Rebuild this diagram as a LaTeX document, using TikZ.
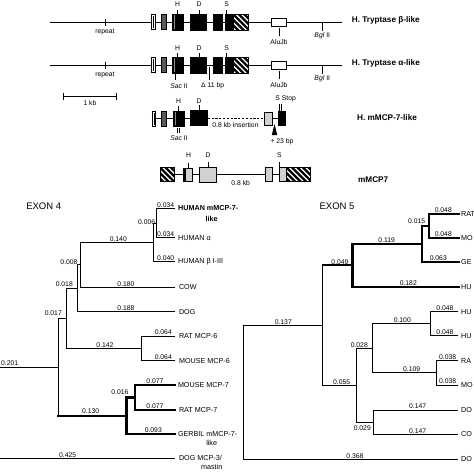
\documentclass[tikz,border=0pt]{standalone}
\usepackage{fontspec}
\setmainfont{Liberation Sans}
\newcommand\myhatch[4]{%
  \begin{scope}
    \clip (#1,#2) rectangle (#3,#4);
    \fill[white] (#1,#2) rectangle (#3,#4);
    \foreach \k in {-22,-16.5,...,30}{\draw[line width=2.3pt] ({#1+\k},#2) -- ++(22,22);}
  \end{scope}
  \draw[line width=0.7pt] (#1,#2) rectangle (#3,#4);}
\newcommand\tryprow[1]{%
  \draw[ln] (50,#1) -- (341.7,#1);
  \draw[ln] (105,#1-3.5) -- (105,#1+3.5);
  \draw[line width=0.7pt, fill=white] (151.7,#1-7.5) rectangle (155,#1+7.5);
  \draw[line width=0.5pt] (153.3,#1-6) -- (153.3,#1+6);
  \draw[line width=0.7pt, fill=black!65] (161.7,#1-7.5) rectangle (166,#1+7.5);
  \draw[exo] (172,#1-8) rectangle (183,#1+8);
  \draw[black!45, line width=0.5pt] (174.3,#1-7) -- (174.3,#1+7);
  \draw[exo] (190,#1-8) rectangle (206.7,#1+8);
  \draw[exo] (213,#1-8) rectangle (222.7,#1+8);
  \draw[exo] (225,#1-8) rectangle (233,#1+8);
  \myhatch{233}{#1-8}{248}{#1+8}
  \draw[line width=0.7pt, fill=white] (271,#1-4) rectangle (286,#1+4);
  \draw[ln] (177.5,#1-8) -- (177.5,#1-12.5);
  \draw[ln] (199,#1-8) -- (199,#1-12.5);
  \draw[ln] (226.7,#1-8) -- (226.7,#1-12.5);
  \draw[ln] (279,#1+5.5) -- (279,#1+13.5);
  \draw[ln] (322.3,#1) -- (322.3,#1+8.5);}
\begin{document}
\begin{tikzpicture}[x=1pt,y=-1pt,
  ln/.style={line width=0.85pt},
  thk/.style={line width=2.4pt, line cap=rect},
  exo/.style={draw, line width=0.7pt, fill=black},
  lgt/.style={draw, line width=0.7pt, fill=black!18},
  num/.style={font=\fontsize{6.8}{7.5}\selectfont, inner sep=0.3pt},
  sml/.style={font=\fontsize{6.8}{7.5}\selectfont, inner sep=0.3pt},
  lab/.style={font=\fontsize{7.2}{8}\selectfont, inner sep=0.3pt},
  leaf/.style={lab, anchor=west},
  bleaf/.style={font=\bfseries\fontsize{7.2}{8}\selectfont, inner sep=0.3pt, anchor=west},
  gtitle/.style={font=\bfseries\fontsize{8.2}{9}\selectfont, anchor=west, inner sep=0},
  exon/.style={font=\fontsize{9.5}{11}\selectfont, inner sep=0},
  bl/.style={num, anchor=south},
]
\useasboundingbox (0,0) rectangle (474,474);
\fill[white] (0,0) rectangle (474,474);

% ---------- gene rows 1 and 2 ----------
\tryprow{22}
\tryprow{65.3}
\foreach \yc/\nm in {22/a,65.3/b}{
  \node[sml] (rep\nm) at (105,\yc+10) {repeat};
  \node[sml] (h\nm) at (177.5,\yc-17.5) {H};
  \node[sml] (d\nm) at (199,\yc-17.5) {D};
  \node[sml] (s\nm) at (226.7,\yc-17.5) {S};
  \node[sml] (alu\nm) at (279,\yc+19.8) {AluJb};
  \node[sml] (bgl\nm) at (322.3,\yc+13.3) {\textit{Bgl} II};
}
\node[gtitle] (t1) at (351.7,20.7) {H. Tryptase β-like};
\node[gtitle] (t2) at (351.7,63.3) {H. Tryptase α-like};
\draw[ln] (175,73) -- (175,80);
\node[sml] (sac2) at (179,86) {\textit{Sac} II};
\draw[ln] (209.3,66.7) -- (209.3,80);
\node[sml] (del) at (212.7,86) {Δ 11 bp};

% scale bar
\draw[ln] (63.3,96.7) -- (116.7,96.7);
\draw[ln] (63.3,93.2) -- (63.3,100.2);
\draw[ln] (116.7,93.2) -- (116.7,100.2);
\node[sml] (kb) at (90,103.3) {1 kb};

% ---------- row 3: H. mMCP-7-like ----------
\draw[ln] (151.7,118.3) -- (190,118.3);
\draw[ln, dash pattern=on 2.2pt off 1.6pt] (207.7,118.3) -- (264,118.3);
\draw[ln] (272,118.3) -- (278,118.3);
\draw[line width=0.7pt, fill=white] (152.7,111.5) rectangle (155,126);
\draw[line width=0.5pt] (153.8,113) -- (153.8,124.5);
\draw[line width=0.7pt, fill=black!65] (161.7,111.5) rectangle (166,126);
\draw[exo] (173,111) rectangle (184.3,126);
\draw[black!45, line width=0.5pt] (175.3,112) -- (175.3,125);
\draw[exo] (190,110) rectangle (207.7,125.7);
\draw[lgt] (264,112) rectangle (272,125);
\draw[exo] (278,111.7) rectangle (285,125);
\draw[ln] (178.7,111) -- (178.7,106);
\draw[ln] (199,110) -- (199,105);
\node[sml] (h3) at (178.7,101.5) {H};
\node[sml] (d3) at (199,101) {D};
\draw[ln] (177.8,127.7) -- (177.8,132.7);
\draw[ln] (179.8,127.7) -- (179.8,132.7);
\node[sml] (sac3) at (179,138) {\textit{Sac} II};
\draw[ln] (279.3,103.5) -- (279.3,111.7);
\draw[ln] (281.1,103.5) -- (281.1,111.7);
\node[sml] (sstop) at (285.7,99) {S Stop};
\fill (274.5,124) -- (271.8,135) -- (277.2,135) -- cycle;
\node[sml] (p23) at (282,141.7) {+ 23 bp};
\node[sml] (ins) at (235.5,124.6) {0.8 kb insertion};
\node[gtitle] (t3) at (357,117.3) {H. mMCP-7-like};

% ---------- row 4: mMCP7 ----------
\draw[ln] (174.3,174.5) -- (279,174.5);
\myhatch{160}{167.5}{174.3}{181.5}
\draw[lgt] (183.3,168) rectangle (192.3,181);
\fill (183.3,168) rectangle (185.7,181);
\draw[lgt] (199.3,167) rectangle (216,182);
\draw[lgt] (265,167.5) rectangle (272.7,181);
\draw[lgt] (279,167) rectangle (286,181.5);
\myhatch{286}{167}{310}{181.5}
\draw[ln] (188.5,168) -- (188.5,162.5);
\draw[ln] (208,167) -- (208,161.5);
\draw[ln] (279.3,167) -- (279.3,161.5);
\node[sml] (h4) at (188.5,155.5) {H};
\node[sml] (d4) at (208,155.5) {D};
\node[sml] (s4) at (279.3,155.5) {S};
\node[sml] (kb4) at (240.7,183.5) {0.8 kb};
\node[gtitle] (t4) at (358,180) {mMCP7};

% ---------- EXON 4 tree ----------
\node[exon] (ex4) at (43.7,206) {EXON 4};
\coordinate (A) at (156,223);
\coordinate (B) at (153,242.3);
\coordinate (C) at (80,264.8);
\coordinate (D) at (77.3,288.3);
\coordinate (M6) at (141.7,348.3);
\coordinate (E) at (66.7,318.3);
\coordinate (H7) at (135,397.5);
\coordinate (G) at (126.5,415.75);
\coordinate (F) at (58.3,367);
\coordinate (R4) at (-10,412.6);
\foreach \i/\y in {1/208.3,2/237.7,3/261.7,4/287.3,5/311.7,6/336,7/360.7,8/385,9/410,10/434,11/458.3}
  \coordinate (a\i) at (175,\y);
\draw[ln] (A) |- (a1);
\draw[ln] (A) |- (a2);
\draw[ln] (B) |- (A);
\draw[ln] (B) |- (a3);
\draw[ln] (C) |- (B);
\draw[ln] (C) |- (a4);
\draw[ln] (D) |- (C);
\draw[ln] (D) |- (a5);
\draw[ln] (M6) |- (a6);
\draw[ln] (M6) |- (a7);
\draw[ln] (E) |- (D);
\draw[ln] (E) |- (M6);
\draw[ln] (F) |- (E);
\draw[ln] (F) -- (F |- G);
\draw[thk] (F |- G) -- (G);
\draw[thk] (G) |- (H7);
\draw[thk] (G) |- (a10);
\draw[thk] (H7) |- (a8);
\draw[thk] (H7) |- (a9);
\draw[ln] (R4) |- (F);
\draw[ln] (R4) |- (a11);
% leaf labels
\node[bleaf] (la1) at (177.7,208.3) {HUMAN mMCP-7-};
\node[bleaf, anchor=center] (la1b) at (211.7,219.3) {like};
\node[leaf] (la2) at (177.7,237.7) {HUMAN α};
\node[leaf] (la3) at (177.7,261.7) {HUMAN β I-III};
\node[leaf] (la4) at (178.5,287.3) {COW};
\node[leaf] (la5) at (178.5,311.7) {DOG};
\node[leaf] (la6) at (178.5,336) {RAT MCP-6};
\node[leaf] (la7) at (178.5,360.7) {MOUSE MCP-6};
\node[leaf] (la8) at (177.5,385) {MOUSE MCP-7};
\node[leaf] (la9) at (178.5,410) {RAT MCP-7};
\node[leaf] (la10) at (177.5,434) {GERBIL mMCP-7-};
\node[lab] (la10b) at (211.7,442.7) {like};
\node[leaf] (la11) at (178.5,458.3) {DOG MCP-3/};
\node[lab] (la11b) at (211.7,466.7) {mastin};
% branch lengths
\node[bl] (e1) at (165.7,207.7) {0.034};
\node[num] (e2) at (146.7,221.7) {0.006};
\node[bl] (e3) at (165.7,237.1) {0.034};
\node[bl] (e4) at (165.7,261.1) {0.040};
\node[bl] (e5) at (118.3,241.7) {0.140};
\node[num] (e6) at (69,261.7) {0.008};
\node[bl] (e7) at (126,286.7) {0.180};
\node[num] (e8) at (64.3,284) {0.018};
\node[bl] (e9) at (126,311.1) {0.188};
\node[num] (e10) at (53.3,312.7) {0.017};
\node[bl] (e11) at (163.3,335.4) {0.064};
\node[bl] (e12) at (105,347.7) {0.142};
\node[bl] (e13) at (163.3,360.1) {0.064};
\node[num, anchor=south west] (e14) at (0.6,366.4) {0.201};
\node[bl] (e15) at (155,383.8) {0.077};
\node[num] (e16) at (120,391.7) {0.016};
\node[bl] (e17) at (155,408.8) {0.077};
\node[bl] (e18) at (90.7,414.5) {0.130};
\node[bl] (e19) at (153.3,432.8) {0.093};
\node[bl] (e20) at (67.7,457.7) {0.425};

% ---------- EXON 5 tree ----------
\node[exon] (ex5) at (337,206) {EXON 5};
\coordinate (RM) at (429,225.85);
\coordinate (RMG) at (421.7,243.8);
\coordinate (N119) at (352.3,265.25);
\coordinate (P) at (322.7,325.2);
\coordinate (HH) at (430,323.7);
\coordinate (RM6) at (436.7,372.85);
\coordinate (N028) at (372.7,348.3);
\coordinate (DC) at (373.3,422.15);
\coordinate (N055) at (356,385.2);
\coordinate (R5) at (243.3,392.25);
\foreach \i/\y in {1/214,2/237.7,3/261.7,4/286.7,5/311.7,6/335.7,7/360.7,8/385,9/410,10/434.3,11/459.3}
  \coordinate (b\i) at (458.3,\y);
\draw[thk] (RM) |- (b1);
\draw[thk] (RM) |- (b2);
\draw[thk] (RMG) |- (RM);
\draw[thk] (RMG) |- (b3);
\draw[thk] (N119) |- (RMG);
\draw[thk] (N119) |- (b4);
\draw[ln] (P) -- (P |- N119);
\draw[thk] (P |- N119) -- (N119);
\draw[ln] (P) |- (N055);
\draw[ln] (N055) |- (N028);
\draw[ln] (N055) |- (DC);
\draw[ln] (N028) |- (HH);
\draw[ln] (N028) |- (RM6);
\draw[ln] (HH) |- (b5);
\draw[ln] (HH) |- (b6);
\draw[ln] (RM6) |- (b7);
\draw[ln] (RM6) |- (b8);
\draw[ln] (DC) |- (b9);
\draw[ln] (DC) |- (b10);
\draw[ln] (R5) |- (P);
\draw[ln] (R5) |- (b11);
\foreach \i/\t in {1/RAT,2/MO,3/GE,4/HU,5/HU,6/HU,7/RA,8/MO,9/DO,10/CO,11/DO}
  \node[leaf, xshift=2.4pt] (lb\i) at (b\i) {\t};
% branch lengths
\node[bl] (f1) at (443.3,213.4) {0.048};
\node[num] (f2) at (416.7,220.7) {0.015};
\node[bl] (f3) at (443.3,237.1) {0.048};
\node[bl] (f4) at (438.3,261.1) {0.063};
\node[bl] (f5) at (386.7,243.2) {0.119};
\node[bl] (f6) at (408.3,286.1) {0.182};
\node[bl] (f7) at (340,264.6) {0.049};
\node[bl] (f8) at (283.3,324.6) {0.137};
\node[bl] (f9) at (445,311.1) {0.048};
\node[bl] (f10) at (402.3,323.1) {0.100};
\node[bl] (f11) at (445,335.1) {0.048};
\node[bl] (f12) at (359.3,347.7) {0.028};
\node[bl] (f13) at (447.7,360.1) {0.038};
\node[bl] (f14) at (411.7,372.2) {0.109};
\node[bl] (f15) at (447.7,384.4) {0.038};
\node[bl] (f16) at (341.7,384.6) {0.055};
\node[bl] (f17) at (417.7,409.4) {0.147};
\node[num, anchor=north] (f18) at (362.3,425) {0.029};
\node[bl] (f19) at (417.7,433.7) {0.147};
\node[bl] (f20) at (355,458.7) {0.368};
\end{tikzpicture}
\end{document}
